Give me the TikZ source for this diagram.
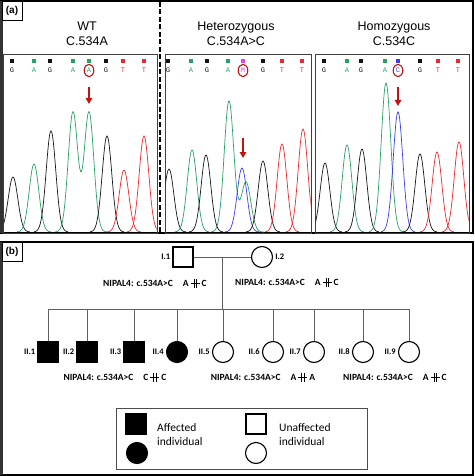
\documentclass[tikz,border=0pt]{standalone}
\usepackage{fontspec}
\setmainfont{Liberation Sans}
\newfontfamily\calfont{Carlito}
\newfontfamily\basefont{Liberation Mono}
\usetikzlibrary{arrows.meta}

\definecolor{ach}{RGB}{40,160,100}
\definecolor{gch}{RGB}{20,20,20}
\definecolor{tch}{RGB}{235,40,45}
\definecolor{cch}{RGB}{60,60,235}
\definecolor{mch}{RGB}{225,70,225}
\definecolor{arrowred}{RGB}{190,20,20}
\definecolor{pedgray}{RGB}{95,95,95}

\newcommand{\peak}[3]{\draw[trace,#3] plot[variable=\t, domain=-17:17, samples=45, smooth] ({#1+\t},{232-(232-#2)*exp(-(\t/6.8)^2)});}
\newcommand{\sepsym}{\hspace{2pt}\rlap{\raisebox{2.9pt}{\rule{9pt}{0.7pt}}}\hspace{3pt}\rule[-1.3pt]{0.8pt}{9pt}\hspace{1.4pt}\rule[-1.3pt]{0.8pt}{9pt}\hspace{5pt}}

\begin{document}
\begin{tikzpicture}[x=1pt, y=-1pt, every node/.style={inner sep=0pt},
  >={Triangle[width=6.5pt,length=6pt]},
  trace/.style={line width=0.7pt},
  base/.style={font=\basefont\fontsize{7}{8}\selectfont},
  title/.style={font=\fontsize{12.5}{15.5}\selectfont, align=center},
  panel/.style={line width=2pt},
  chrom/.style={draw=black!75, line width=0.8pt},
  tag/.style={draw, line width=0.8pt, font=\bfseries\fontsize{10}{12}\selectfont, minimum width=20pt, minimum height=19pt},
  male/.style={draw, line width=1.1pt, minimum size=20pt},
  female/.style={circle, draw, line width=1.1pt, minimum size=21pt},
  aff/.style={fill=black},
  lbl/.style={font=\calfont\bfseries\fontsize{8.5}{9}\selectfont},
  geno/.style={font=\calfont\bfseries\fontsize{9.5}{10}\selectfont},
  pedline/.style={pedgray, line width=0.8pt},
  legtext/.style={font=\calfont\fontsize{11.5}{14}\selectfont, align=left, anchor=west},
  label distance=2pt]
\useasboundingbox (0,0) rectangle (474,476);

\draw[panel] (1,1) rectangle (473,233);
\draw[line width=3pt, black!80] (1.5,1) -- (1.5,233);
\node[tag, fill=white] (taga) at (12,11) {(a)};
\draw[line width=2.2pt, dash pattern=on 5pt off 2.5pt] (160,2) -- (160,233);

\node[title] (wt) at (87,34) {WT\\C.534A};
\node[title] (het) at (236,34) {Heterozygous\\C.534A>C};
\node[title] (hom) at (394,34) {Homozygous\\C.534C};

\draw[chrom] (3,54) rectangle (157,233);
\draw[chrom] (165,54) rectangle (311,233);
\draw[chrom] (315,54) rectangle (469,233);

\foreach \bx/\b/\c in {12/G/gch, 34/A/ach, 50/G/gch, 73/A/ach, 89/A/ach, 106/G/gch, 123/T/tch, 144/T/tch,
  168/G/gch, 191/A/ach, 207/G/gch, 228/A/ach, 243/M/mch, 263/G/gch, 282/T/tch, 302/T/tch,
  324/G/gch, 347/A/ach, 361/G/gch, 385/A/ach, 398/C/cch, 420/G/gch, 438/T/tch, 458/T/tch} {
  \fill[\c] (\bx-2.2,59) rectangle (\bx+2.2,63.4);
  \node[base, text=\c] at (\bx,70) {\b};
}
\foreach \bx in {89,243,398} {\draw[arrowred, line width=1.1pt] (\bx,70.5) ellipse (4.8 and 6.2);}

\draw[->, arrowred, line width=1.6pt] (89,87) -- (89,104);
\draw[->, arrowred, line width=1.6pt] (243,138) -- (243,158);
\draw[->, arrowred, line width=1.6pt] (398,87) -- (398,106);

\begin{scope}
  \clip (3.5,54) rectangle (156.5,232.5);
  \peak{13}{177}{gch}
  \peak{34}{164}{ach}
  \peak{51}{131}{gch}
  \draw[trace, ach] plot[variable=\t, domain=55:107, samples=70, smooth] (\t,{232-120*exp(-((\t-73)/6.8)^2)-120*exp(-((\t-89)/6.8)^2)});
  \peak{107}{136}{gch}
  \peak{124}{170}{tch}
  \peak{144}{136}{tch}
\end{scope}
\begin{scope}
  \clip (165.5,54) rectangle (310.5,232.5);
  \peak{169}{169}{gch}
  \peak{192}{150}{ach}
  \peak{206}{155}{gch}
  \draw[trace, ach] plot[variable=\t, domain=211:264, samples=70, smooth] (\t,{232-131*exp(-((\t-229)/6.8)^2)-50*exp(-((\t-246)/6.8)^2)});
  \peak{242}{168}{cch}
  \peak{263}{161}{gch}
  \peak{282}{144}{tch}
  \peak{303}{129}{tch}
\end{scope}
\begin{scope}
  \clip (315.5,54) rectangle (468.5,232.5);
  \peak{325}{163}{gch}
  \peak{347}{145}{ach}
  \peak{362}{149}{gch}
  \peak{386}{83}{ach}
  \peak{398}{112}{cch}
  \peak{420}{154}{gch}
  \peak{437}{152}{tch}
  \peak{459}{142}{tch}
\end{scope}

\draw[panel] (1,242) rectangle (473,475);
\draw[line width=3pt, black!80] (1.5,242) -- (1.5,475);
\node[tag] (tagb) at (12,252) {(b)};

\node[male, label={[lbl]left:I.1}] (i1) at (183,257) {};
\node[female, label={[lbl]right:I.2}] (i2) at (262,257) {};
\coordinate (mate) at (222,257);
\coordinate (sib) at (222,309);
\draw[pedline] (i1.east) -- (i2.west);
\draw[pedline] (mate) -- (sib);

\node[male, aff, label={[lbl]left:II.1}] (ii1) at (48,352) {};
\node[male, aff, label={[lbl]left:II.2}] (ii2) at (87,352) {};
\node[male, aff, label={[lbl]left:II.3}] (ii3) at (134,352) {};
\node[female, aff, label={[lbl]left:II.4}] (ii4) at (177,352) {};
\node[female, label={[lbl]left:II.5}] (ii5) at (223,352) {};
\node[female, label={[lbl]left:II.6}] (ii6) at (273,352) {};
\node[female, label={[lbl]left:II.7}] (ii7) at (314,352) {};
\node[female, label={[lbl]left:II.8}] (ii8) at (363,352) {};
\node[female, label={[lbl]left:II.9}] (ii9) at (409,352) {};
\draw[pedline] (ii1.north |- sib) -- (ii9.north |- sib);
\foreach \c in {ii1,ii2,ii3,ii4,ii5,ii6,ii7,ii8,ii9} {\draw[pedline] (\c.north |- sib) -- (\c.north);}

\node[geno] (g1) at (155,283) {NIPAL4: c.534A>C\hspace{10pt}A\sepsym C};
\node[geno] (g2) at (287,282) {NIPAL4: c.534A>C\hspace{10pt}A\sepsym C};
\node[geno] (g3) at (115,377) {NIPAL4: c.534A>C\hspace{10pt}C\sepsym C};
\node[geno] (g4) at (263,377) {NIPAL4: c.534A>C\hspace{10pt}A\sepsym A};
\node[geno] (g5) at (395,377) {NIPAL4: c.534A>C\hspace{10pt}A\sepsym C};

\draw[black!70, line width=0.8pt] (116,408) rectangle (367,469);
\node[male, aff] (legam) at (136,424) {};
\node[female, aff] (legaf) at (137,453) {};
\node[male] (legum) at (256,424) {};
\node[female] (leguf) at (256,453) {};
\node[legtext] (lega) at (157,435) {Affected\\individual};
\node[legtext] (legu) at (279,435) {Unaffected\\individual};
\end{tikzpicture}
\end{document}
